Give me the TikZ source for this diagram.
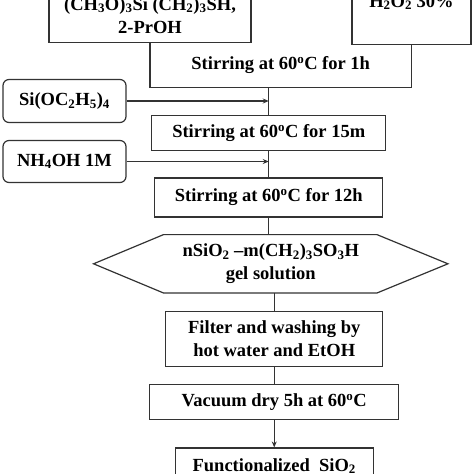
\documentclass[tikz,border=0pt]{standalone}
\usepackage{fontspec}
\setmainfont{Liberation Serif}
\usepackage{tikz}
\usetikzlibrary{positioning, arrows.meta}

\begin{document}
\begin{tikzpicture}[x=1pt, y=-1pt, node distance=20pt]
% Define flow chart styles
\tikzstyle{process} = [rectangle, draw=black!80, line width=1.2pt, fill=white, text centered, align=center, font=\fontsize{18.5}{23}\selectfont\bfseries, inner sep=2pt]
\tikzstyle{reagent} = [process, rounded corners=6pt]
\tikzstyle{label} = [rectangle, text centered, align=center, font=\fontsize{18.5}{23}\selectfont\bfseries, inner sep=2pt]
\tikzstyle{conn} = [draw=black!80, line width=1.2pt]
\tikzstyle{arrow} = [conn, -{Stealth[length=6pt, width=5pt]}]
\useasboundingbox (0,0) rectangle (474,474);
% Define starting solutions
\node[process, anchor=south, minimum width=202pt, minimum height=54pt] (Thiol) at (150,43) {(CH\textsubscript{3}O)\textsubscript{3}Si (CH\textsubscript{2})\textsubscript{3}SH,\\2-PrOH};
\node[process, anchor=south, minimum width=119pt, minimum height=84pt] (Peroxide) at (411.5,45) {H\textsubscript{2}O\textsubscript{2} 30\%};
% First stirring step (open box)
\node[label, minimum width=261pt, minimum height=43pt] (Stir1h) at (280.75,65.5) {Stirring at 60\textsuperscript{o}C for 1h};
% Define main column
\node[process, minimum width=234pt, minimum height=35pt, below=28pt of Stir1h, xshift=-12pt] (Stir15m) {Stirring at 60\textsuperscript{o}C for 15m};
\node[process, minimum width=228pt, minimum height=39pt, below=26pt of Stir15m] (Stir12h) {Stirring at 60\textsuperscript{o}C for 12h};
\node[label, minimum width=354pt, minimum height=58pt, below=17pt of Stir12h, xshift=2pt] (Gel) {nSiO\textsubscript{2} --m(CH\textsubscript{2})\textsubscript{3}SO\textsubscript{3}H\\gel solution};
\node[process, minimum width=217pt, minimum height=55pt, below=18pt of Gel, xshift=3.5pt] (Filter) {Filter and washing by\\hot water and EtOH};
\node[process, minimum width=249pt, minimum height=35pt, below=17pt of Filter] (Vacuum) {Vacuum dry 5h at 60\textsuperscript{o}C};
\node[process, minimum width=198pt, minimum height=36pt, below=27pt of Vacuum] (Product) {Functionalized~~SiO\textsubscript{2}};
% Define side reagents
\node[reagent, minimum width=123pt, minimum height=43pt] (TEOS) at (64.5,101) {Si(OC\textsubscript{2}H\textsubscript{5})\textsubscript{4}};
\node[reagent, minimum width=123pt, minimum height=42pt] (Ammonia) at (64.5,161.5) {NH\textsubscript{4}OH 1M};
% Hexagon round the gel solution
\draw[conn] (Gel.west) -- ([xshift=70pt]Gel.north west) -- ([xshift=-71pt]Gel.north east) -- (Gel.east) -- ([xshift=-71pt]Gel.south east) -- ([xshift=70pt]Gel.south west) -- cycle;
% Relationships (lines and arrows)
\draw[conn] (Thiol.south) |- (Stir1h.south) -| (Peroxide.south);
\draw[conn] (Stir15m.north |- Stir1h.south) -- (Stir15m.north);
\draw[arrow] (TEOS.east) -- (TEOS.east -| Stir15m.north);
\draw[conn] (Stir15m.south) -- (Stir12h.north);
\draw[arrow] (Ammonia.east) -- (Ammonia.east -| Stir12h.north);
\draw[conn] (Stir12h.south) -- (Stir12h.south |- Gel.north);
\draw[conn] (Filter.north |- Gel.south) -- (Filter.north);
\draw[conn] (Filter.south) -- (Vacuum.north);
\draw[arrow] (Vacuum.south) -- (Product.north);
\end{tikzpicture}
\end{document}
